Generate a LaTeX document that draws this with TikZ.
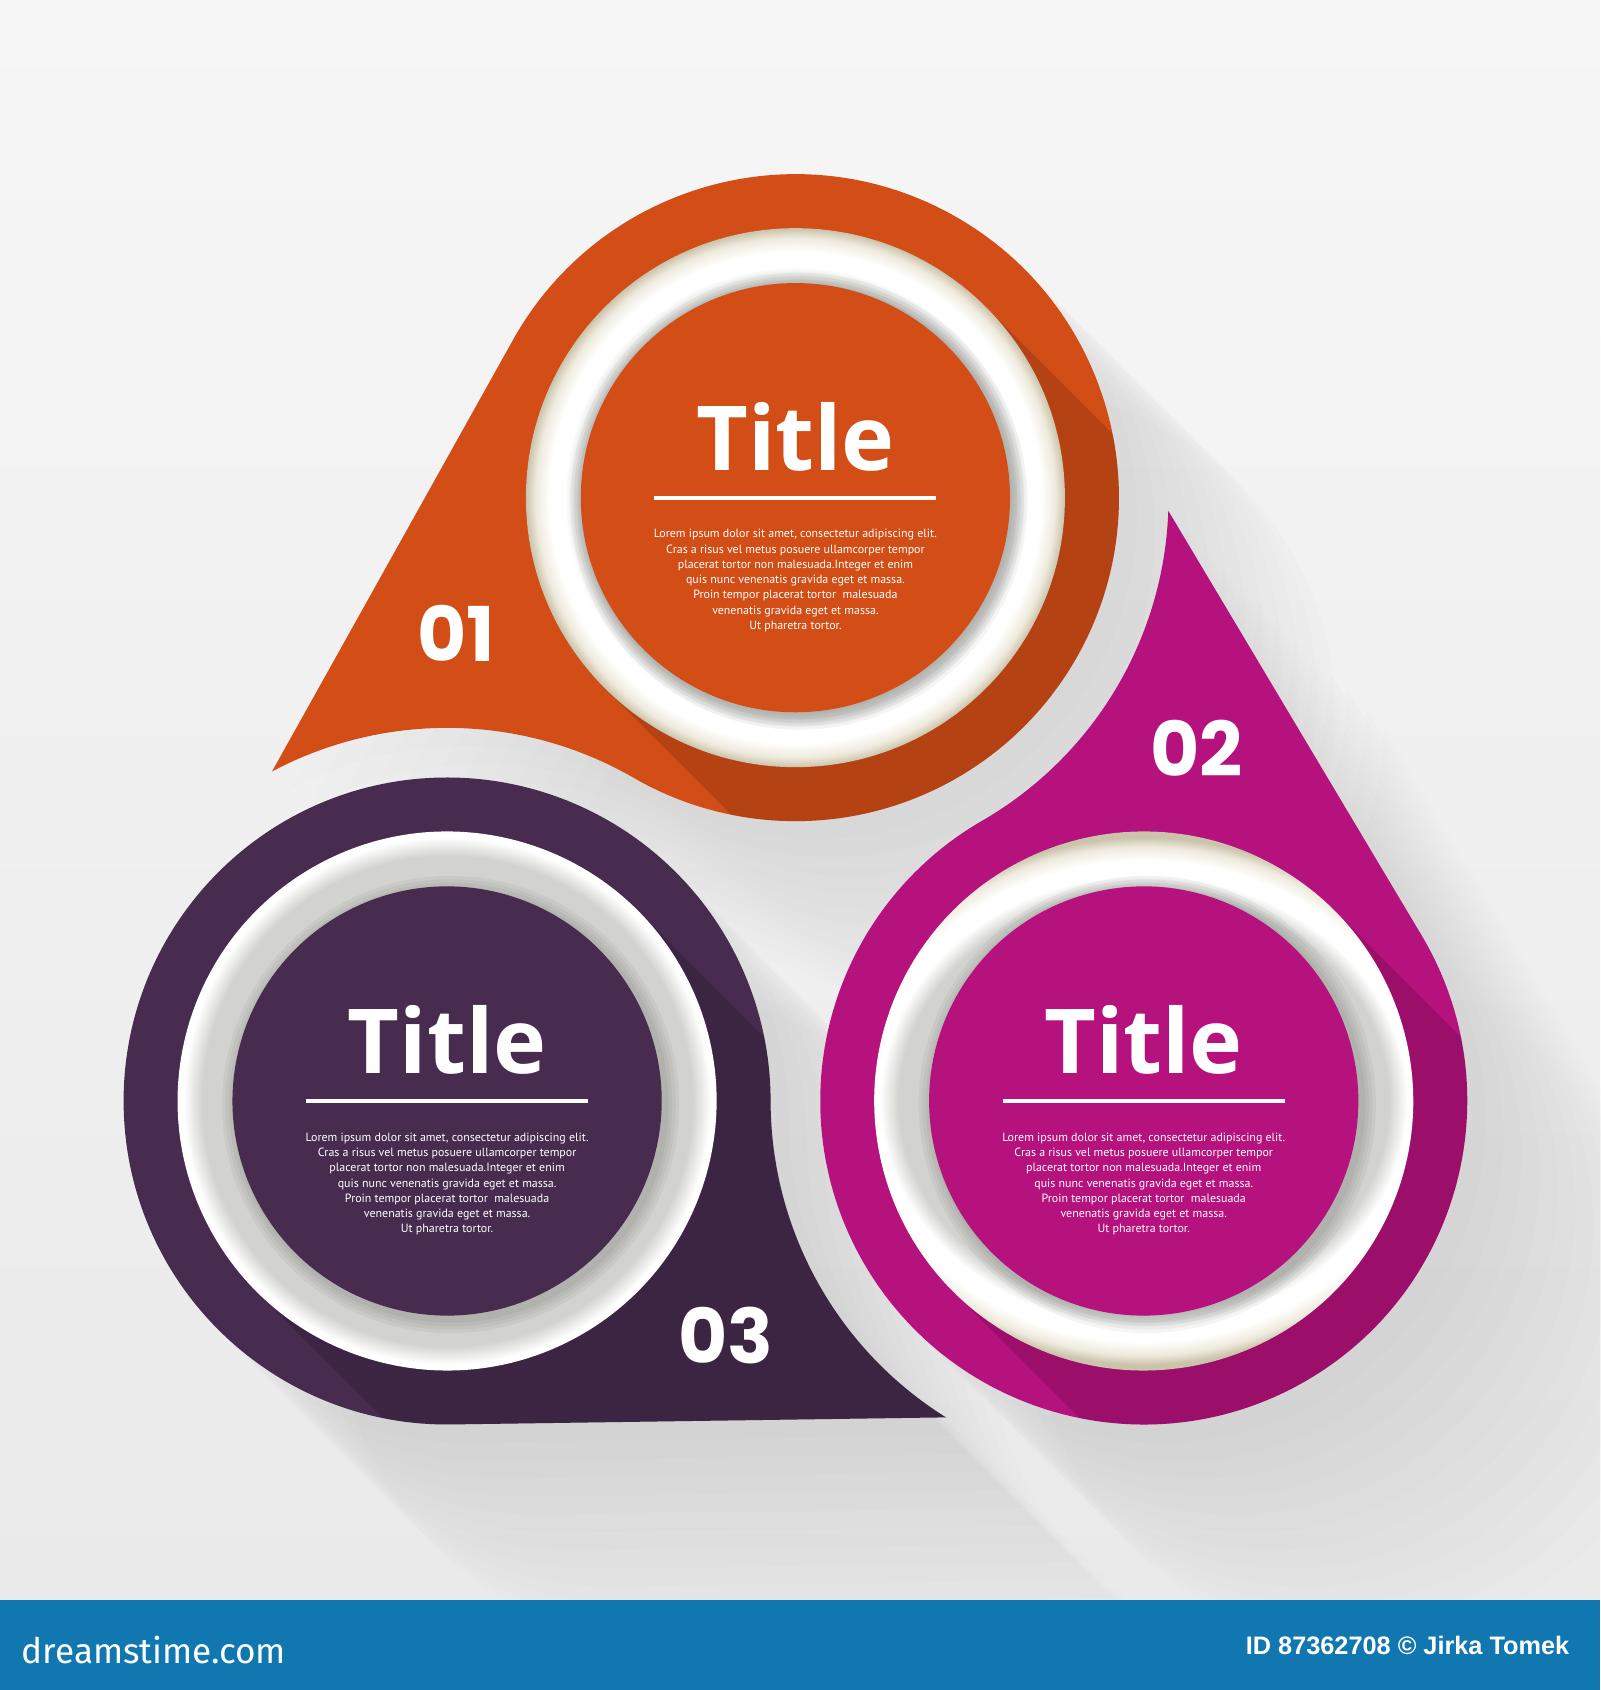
\documentclass[tikz,border=0pt]{standalone}
\usepackage{fontspec}
\setmainfont{Open Sans}
\newfontfamily\numfont{Poppins}
\newfontfamily\bodyfont{PT Sans}
\newfontfamily\logofont{Fira Sans}
\newfontfamily\creditfont{Liberation Sans}
\usetikzlibrary{calc}

\definecolor{bgtop}{HTML}{F6F6F6}
\definecolor{bgbottom}{HTML}{EAEAEA}
\definecolor{bannerblue}{HTML}{1077B0}
\definecolor{dropone}{HTML}{D34E17}
\definecolor{droptwo}{HTML}{B5127D}
\definecolor{dropthree}{HTML}{472C4F}
\definecolor{ringin}{HTML}{D2D2CE}
\definecolor{ringcream}{HTML}{EEEADD}
\definecolor{ringedge}{HTML}{CBC3AB}
\definecolor{shadowgrey}{HTML}{8A8A8A}

\pgfdeclareradialshading{ringshade}{\pgfpoint{0bp}{0bp}}{%
    color(0bp)=(ringin); color(19.9bp)=(ringin); color(21.4bp)=(white);
    color(22.8bp)=(white); color(24.1bp)=(ringcream); color(25bp)=(ringedge);
    color(50bp)=(ringedge)}

% one drop, centre of its circle at the origin, tip pointing left-down
\newcommand{\droppath}{(207.62:5.908) -- (150.82:3.235)
    arc[start angle=150.82, end angle=-120, radius=3.235]
    arc[start angle=60, end angle=118, radius=3.731] -- cycle}

\newcommand{\loremtext}{Lorem ipsum dolor sit amet, consectetur adipiscing elit.\\
    Cras a risus vel metus posuere ullamcorper tempor\\
    placerat tortor non malesuada.Integer et enim\\
    quis nunc venenatis gravida eget et massa.\\
    Proin tempor placerat tortor\ \ malesuada\\
    venenatis gravida eget et massa.\hspace*{2em}\\
    Ut pharetra tortor.}

\begin{document}
\begin{tikzpicture}[
    titletext/.style={
        text=white,
        anchor=base,
        inner sep=0pt,
        font=\bfseries\fontsize{25.5}{30}\selectfont,
    },
    numtext/.style={
        text=white,
        inner sep=0pt,
        font=\numfont\bfseries\fontsize{21.5}{24}\selectfont,
    },
    bodytext/.style={
        text=white,
        align=center,
        anchor=north,
        inner sep=0pt,
        font=\bodyfont\fontsize{3.4}{4.35}\selectfont,
    },
    rule/.style={
        white,
        line width=1.2pt,
    },
    dropframe/.style={
        shift={(7.954,7.901)},
        rotate=#1,
        shift={(0,4.022)},
    },
]
    \useasboundingbox (0,0) rectangle (16,16.9);
    \shade[top color=bgtop, bottom color=bgbottom] (0,0.9) rectangle (16,16.9);

    \coordinate (c1) at (7.954,11.923);
    \coordinate (c2) at (11.437,5.890);
    \coordinate (c3) at (4.471,5.890);

    % long shadows on the background
    \foreach \k in {1,...,12}{
        \foreach \rot in {0,-120,-240}{
            \begin{scope}[xshift=\k*1.8mm, yshift=-\k*1.8mm, dropframe=\rot]
                \fill[shadowgrey, fill opacity=0.02] \droppath;
            \end{scope}
        }
    }
    \fill[bannerblue] (0,0) rectangle (16,0.9);

    % the three drops with their rings
    \foreach \rot/\col in {0/dropone, -120/droptwo, -240/dropthree}{
        \pgfmathsetmacro{\aup}{45-(\rot)}
        \pgfmathsetmacro{\adown}{225-(\rot)}
        \pgfmathsetmacro{\aend}{405-(\rot)}
        \pgfmathsetmacro{\adir}{-45-(\rot)}
        \begin{scope}[dropframe=\rot]
            \fill[\col] \droppath;
            \begin{scope}
                \clip \droppath;
                \fill[black, opacity=0.14] (\aup:2.695)
                    arc[start angle=\aup, end angle=\adown, radius=2.695]
                    -- ++(\adir:9)
                    arc[start angle=\adown, end angle=\aend, radius=2.695] -- cycle;
            \end{scope}
            \shade[shading=ringshade] (0,0) circle (2.695);
            % shadow of the disc on the ring
            \begin{scope}
                \clip (0,0) circle (2.695);
                \foreach \j in {1,...,4}{
                    \fill[black, opacity=0.04] (\adir:0.05) circle (2.146+0.035*\j);
                }
            \end{scope}
            \fill[\col] (0,0) circle (2.146);
        \end{scope}
    }

    % titles, rules and text
    \foreach \i in {1,2,3}{
        \node[titletext] (title\i) at ($(c\i)+(0,0.27)$) {Title};
        \draw[rule] ($(c\i)+(-1.41,0)$) -- ($(c\i)+(1.41,0)$);
        \node[bodytext] (text\i) at ($(c\i)+(0,-0.31)$) {\loremtext};
    }

    \node[numtext] (num1) at (4.561,10.566) {01};
    \node[numtext] (num2) at (11.968,9.417) {02};
    \node[numtext] (num3) at (7.261,3.542) {03};

    % banner
    \node[anchor=west, inner sep=0pt, text=white, font=\logofont\fontsize{10}{12}\selectfont] (logo) at (0.21,0.40) {dreamstime.com};
    \node[anchor=east, inner sep=0pt, text=white, font=\creditfont\bfseries\fontsize{7.2}{8}\selectfont] (credit) at (15.70,0.45) {ID 87362708 © Jirka Tomek};
\end{tikzpicture}
\end{document}
